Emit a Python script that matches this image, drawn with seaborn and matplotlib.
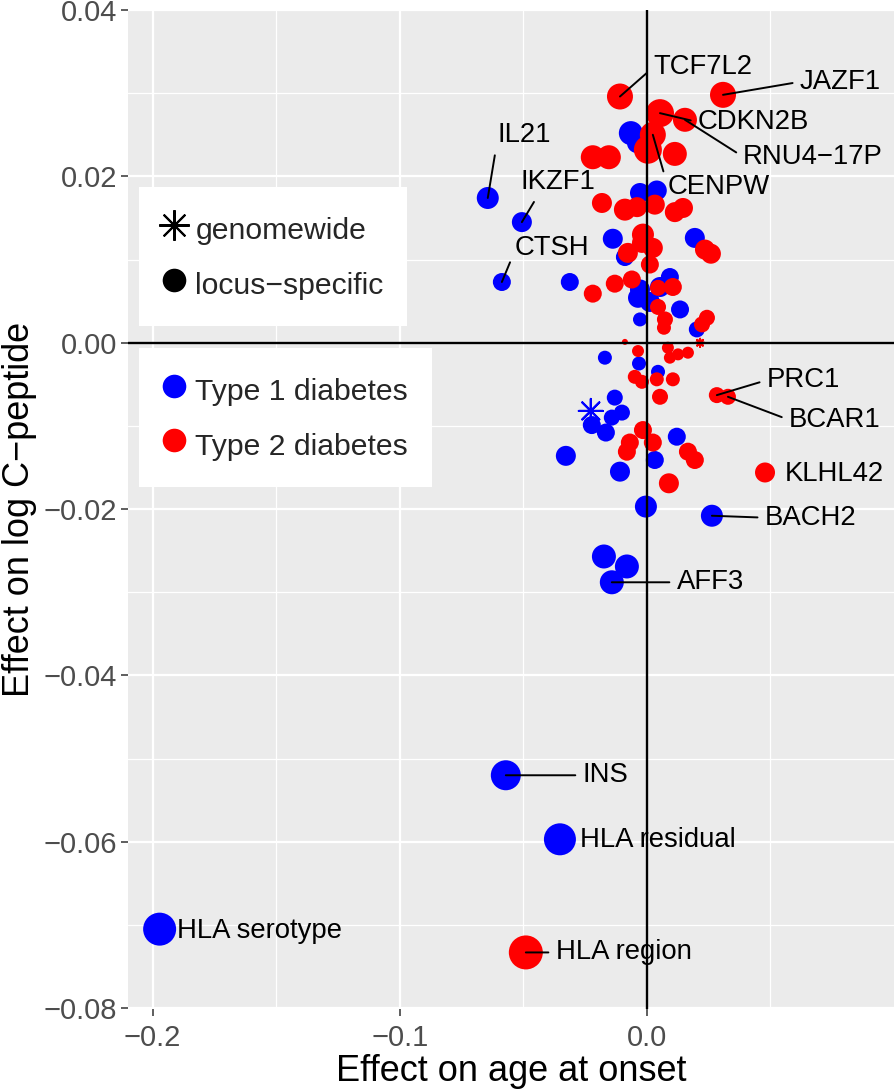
import matplotlib
matplotlib.use("Agg")
import pandas as pd
import matplotlib.pyplot as plt
from matplotlib.lines import Line2D
import seaborn as sns

# ---- data ---------------------------------------------------------------
# locus-specific effects, type 1 diabetes loci
t1_gene = ["IL21", "IKZF1", "CTSH", "", "", "", "", "", "", "",
           "", "", "", "", "", "", "", "", "", "",
           "", "", "", "", "", "", "", "", "", "",
           "", "", "BACH2", "", "", "AFF3", "INS", "HLA residual", "HLA serotype"]
t1_age = [-0.0644, -0.0506, -0.0587, -0.0312, -0.0065, -0.0040, -0.0028, 0.0040, -0.0138, 0.0194,
          -0.0089, -0.0028, -0.0036, 0.0012, 0.0053, 0.0093, 0.0134, -0.0028, 0.0202, -0.0170,
          -0.0032, 0.0045, -0.0130, -0.0101, -0.0142, -0.0223, -0.0166, 0.0121, -0.0328, 0.0032,
          -0.0109, -0.0004, 0.0263, -0.0174, -0.0081, -0.0142, -0.0571, -0.0352, -0.1972]
t1_cpep = [0.0174, 0.0145, 0.0073, 0.0073, 0.0252, 0.0240, 0.0180, 0.0183, 0.0125, 0.0126,
           0.0103, 0.0064, 0.0054, 0.0049, 0.0067, 0.0079, 0.0040, 0.0028, 0.0016, -0.0018,
           -0.0025, -0.0035, -0.0066, -0.0084, -0.0090, -0.0099, -0.0108, -0.0113, -0.0136, -0.0141,
           -0.0155, -0.0197, -0.0208, -0.0257, -0.0269, -0.0288, -0.0520, -0.0597, -0.0705]
t1_weight = [121, 100, 81, 81, 144, 100, 100, 100, 100, 100,
             81, 100, 100, 100, 100, 81, 81, 49, 64, 49,
             49, 49, 64, 64, 64, 81, 81, 81, 100, 81,
             100, 121, 121, 144, 144, 144, 225, 256, 272]

# locus-specific effects, type 2 diabetes loci
t2_gene = ["TCF7L2", "JAZF1", "CDKN2B", "RNU4\u221217P", "CENPW", "", "", "", "", "",
           "", "", "", "", "", "", "", "", "", "",
           "", "", "", "", "", "", "", "", "", "",
           "", "", "", "", "", "", "", "", "", "",
           "", "", "", "PRC1", "BCAR1", "", "", "", "", "",
           "", "", "KLHL42", "HLA region"]
t2_age = [-0.0109, 0.0308, 0.0053, 0.0154, 0.0024, 0.0004, 0.0113, -0.0219, -0.0154, -0.0182,
          -0.0089, -0.0040, 0.0032, 0.0113, 0.0146, -0.0016, -0.0020, -0.0077, 0.0024, 0.0235,
          0.0259, 0.0012, -0.0219, -0.0130, -0.0061, 0.0045, 0.0105, 0.0045, 0.0073, 0.0069,
          0.0243, 0.0223, -0.0089, -0.0036, 0.0085, 0.0093, 0.0126, 0.0166, -0.0049, -0.0020,
          0.0040, 0.0105, 0.0053, 0.0283, 0.0328, -0.0016, -0.0069, 0.0024, -0.0081, 0.0166,
          0.0194, 0.0089, 0.0478, -0.0490]
t2_cpep = [0.0296, 0.0298, 0.0276, 0.0268, 0.0250, 0.0232, 0.0227, 0.0223, 0.0223, 0.0168,
           0.0160, 0.0163, 0.0166, 0.0157, 0.0162, 0.0130, 0.0120, 0.0108, 0.0114, 0.0112,
           0.0107, 0.0094, 0.0059, 0.0071, 0.0076, 0.0066, 0.0067, 0.0043, 0.0028, 0.0018,
           0.0030, 0.0022, 0.0001, -0.0010, -0.0006, -0.0018, -0.0014, -0.0012, -0.0041, -0.0047,
           -0.0044, -0.0044, -0.0065, -0.0063, -0.0065, -0.0105, -0.0120, -0.0120, -0.0131, -0.0131,
           -0.0141, -0.0169, -0.0156, -0.0733]
t2_weight = [169, 169, 196, 144, 169, 196, 144, 144, 144, 100,
             121, 100, 100, 100, 100, 121, 100, 100, 100, 100,
             100, 81, 81, 81, 81, 64, 81, 64, 64, 49,
             64, 64, 9, 36, 36, 36, 36, 36, 49, 49,
             49, 49, 64, 64, 64, 81, 81, 81, 81, 81,
             81, 100, 100, 289]

# genomewide estimates
gw_disease = ["Type 1 diabetes", "Type 2 diabetes"]
gw_age = [-0.0227, 0.0215]
gw_cpep = [-0.0082, 0.0000]
gw_weight = [145, 16]

diseases = ["Type 1 diabetes", "Type 2 diabetes"]
palette = {"Type 1 diabetes": "#0000FF", "Type 2 diabetes": "#FF0000"}

loci = pd.concat([
    pd.DataFrame({"gene": t1_gene, "age": t1_age, "cpep": t1_cpep,
                  "weight": t1_weight, "disease": diseases[0]}),
    pd.DataFrame({"gene": t2_gene, "age": t2_age, "cpep": t2_cpep,
                  "weight": t2_weight, "disease": diseases[1]}),
], ignore_index=True)
gw = pd.DataFrame({"age": gw_age, "cpep": gw_cpep, "weight": gw_weight, "disease": gw_disease})

# ---- layout for the gene labels (offset in points, segment anchor) ----
label_pos = {
    "TCF7L2": (23.8, 20.9, (0, 0.5), True),
    "JAZF1": (55.4, 9.4, (0, 0.5), True),
    "CDKN2B": (27.4, -6.5, (0, 0.5), True),
    "RNU4\u221217P": (41.8, -26.6, (0, 0.5), True),
    "CENPW": (10.8, -37.4, (0, 0.5), True),
    "IL21": (7.2, 45.4, (0, 0.4), True),
    "IKZF1": (-0.7, 28.8, (0.24, 0.05), True),
    "CTSH": (9.4, 24.5, (0, 0.4), True),
    "PRC1": (36.0, 10.8, (0, 0.5), True),
    "BCAR1": (43.9, -16.6, (0, 0.5), True),
    "KLHL42": (14.4, -1.4, (0, 0.5), False),
    "BACH2": (38.2, -1.4, (0, 0.5), True),
    "AFF3": (46.8, 0.0, (0, 0.5), True),
    "INS": (55.4, 0.0, (0, 0.5), True),
    "HLA residual": (14.4, -0.7, (0, 0.5), False),
    "HLA serotype": (12.2, -1.4, (0, 0.5), False),
    "HLA region": (21.6, 0.0, (0, 0.5), True),
}

# ---- style --------------------------------------------------------------
sns.set_theme(style="darkgrid", rc={"axes.facecolor": "#EBEBEB"})
plt.rcParams["font.family"] = ["Liberation Sans", "DejaVu Sans"]

fig = plt.figure(figsize=(8.94, 10.89), dpi=100)
ax = fig.add_axes([128 / 894, 80 / 1089, 766 / 894, 999 / 1089])

wmin, wmax = 9, 289
px2 = 2.0736  # area (pt^2) per squared pixel radius at 100 dpi
sns.scatterplot(data=loci, x="age", y="cpep", hue="disease", palette=palette,
                size="weight", sizes=(px2 * wmin, px2 * wmax), size_norm=(wmin, wmax),
                linewidth=0, legend=False, ax=ax, zorder=2)
sns.scatterplot(data=gw, x="age", y="cpep", hue="disease", palette=palette,
                size="weight", sizes=(px2 * wmin, px2 * wmax), size_norm=(wmin, wmax),
                marker=(8, 2, 0), linewidth=1.5, legend=False, ax=ax, zorder=2)

ax.axvline(0, color="black", lw=1.7, zorder=3)
ax.axhline(0, color="black", lw=1.7, zorder=3)

for _, row in loci[loci["gene"] != ""].iterrows():
    dx, dy, rel, seg = label_pos[row["gene"]]
    arrow = None
    if seg:
        arrow = dict(arrowstyle="-", color="black", lw=1.4, shrinkA=3, shrinkB=0, relpos=rel)
    ax.annotate(row["gene"], xy=(row["age"], row["cpep"]), xytext=(dx, dy),
                textcoords="offset points", ha="left", va="center",
                fontsize=19.8, color="black", arrowprops=arrow, zorder=4)

ax.set_xlim(-0.2100, 0.1000)
ax.set_ylim(-0.0801, 0.0400)
ax.set_xticks([-0.2, -0.1, 0.0])
ax.set_xticklabels(["\u22120.2", "\u22120.1", "0.0"])
ax.set_xticks([-0.15, -0.05, 0.05], minor=True)
yt = [-0.08, -0.06, -0.04, -0.02, 0.0, 0.02, 0.04]
ax.set_yticks(yt)
ax.set_yticklabels([f"{v:.2f}".replace("-", "\u2212") for v in yt])
ax.set_yticks([-0.07, -0.05, -0.03, -0.01, 0.01, 0.03], minor=True)

ax.grid(which="major", color="white", lw=1.6)
ax.grid(which="minor", color="white", lw=0.9)
ax.set_axisbelow(True)
for s in ax.spines.values():
    s.set_visible(False)
ax.tick_params(which="major", length=5, width=1.1, color="#333333",
               labelsize=21, labelcolor="#4D4D4D", pad=3, bottom=True, left=True)
ax.tick_params(axis="x", which="major", pad=6)
ax.tick_params(which="minor", length=0)

ax.set_xlabel("Effect on age at onset", fontsize=26, color="black")
ax.set_ylabel("Effect on log C\u2212peptide", fontsize=26, color="black")
ax.xaxis.set_label_coords(0.5, -0.045)
ax.yaxis.set_label_coords(-0.1185, 0.5)

# ---- legends ------------------------------------------------------------
shape_handles = [
    Line2D([], [], marker=(8, 2, 0), color="black", linestyle="None",
           markersize=22, markeredgewidth=1.5, label="genomewide"),
    Line2D([], [], marker="o", color="black", linestyle="None",
           markersize=17, markeredgewidth=0, label="locus\u2212specific"),
]
disease_handles = [
    Line2D([], [], marker="o", color=palette[d], linestyle="None",
           markersize=17, markeredgewidth=0, label=d) for d in diseases
]
leg_kw = dict(loc="upper left", borderaxespad=0, frameon=True, fancybox=False,
              fontsize=21.7, handlelength=0.77, handleheight=1.5, handletextpad=0.32,
              borderpad=0.78, labelspacing=0.6, framealpha=1)
leg1 = ax.legend(handles=shape_handles, bbox_to_anchor=(0.0144, 0.8228), **leg_kw)
leg1.get_frame().set_facecolor("white")
leg1.get_frame().set_edgecolor("none")
ax.add_artist(leg1)
leg2 = ax.legend(handles=disease_handles, bbox_to_anchor=(0.0144, 0.6617), **leg_kw)
leg2.get_frame().set_facecolor("white")
leg2.get_frame().set_edgecolor("none")

fig.savefig("out.png", dpi=100)
